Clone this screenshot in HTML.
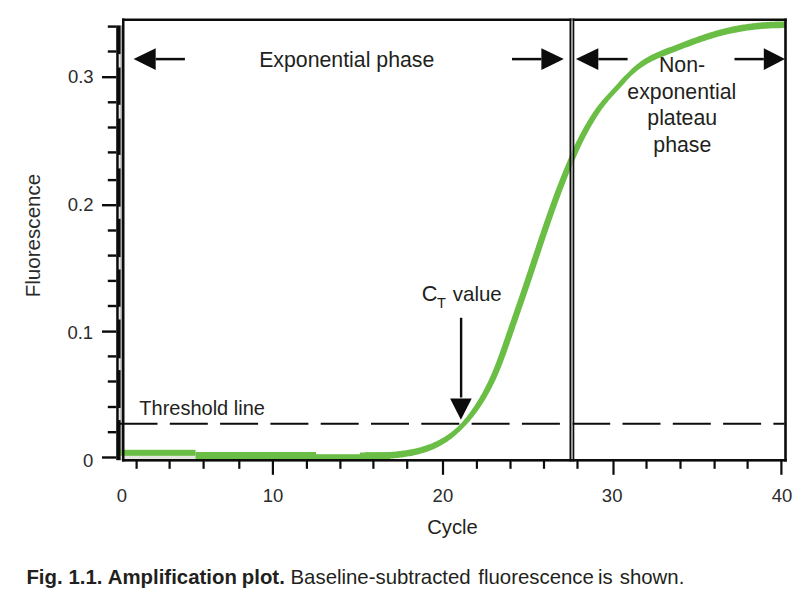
<!DOCTYPE html>
<html><head><meta charset="utf-8"><style>
html,body{margin:0;padding:0;background:#fff;width:812px;height:596px;overflow:hidden;}
text{font-family:"Liberation Sans",sans-serif;}
</style></head><body>
<svg width="812" height="596" viewBox="0 0 812 596" style="display:block" fill="#231f20"><defs><clipPath id="pc"><rect x="120.6" y="19" width="665" height="441"/></clipPath></defs>
<rect x="120.6" y="25.4" width="1.4" height="434.8" fill="#a8a5a2"/>
<g clip-path="url(#pc)">
<rect x="118" y="449.8" width="77.5" height="6.1" fill="#6abd45"/>
<rect x="118" y="455.9" width="77.5" height="3" fill="#e4e5e0"/>
<rect x="195.5" y="452" width="120.5" height="7" fill="#6abd45"/>
<rect x="316" y="454.2" width="49" height="5" fill="#6abd45"/>
<rect x="365" y="452.2" width="25" height="7" fill="#6abd45"/>
<polygon points="360.00,458.98 361.39,459.04 362.77,459.09 364.15,459.14 365.52,459.18 366.90,459.21 368.27,459.24 369.63,459.26 371.00,459.27 372.36,459.27 373.72,459.27 375.07,459.26 376.43,459.24 377.78,459.22 379.13,459.19 380.48,459.15 381.82,459.10 383.17,459.04 384.51,458.98 385.85,458.91 387.20,458.83 388.54,458.74 389.88,458.64 391.22,458.54 392.56,458.42 393.90,458.30 395.24,458.17 396.58,458.03 397.92,457.88 399.26,457.72 400.60,457.56 401.95,457.38 403.29,457.20 404.63,457.00 405.98,456.80 407.32,456.59 408.66,456.37 410.00,456.13 411.34,455.89 412.68,455.63 414.02,455.35 415.35,455.06 416.68,454.76 418.00,454.43 419.32,454.09 420.63,453.73 421.94,453.36 423.25,452.97 424.55,452.56 425.84,452.13 427.12,451.69 428.40,451.22 429.67,450.75 430.94,450.25 432.19,449.73 433.44,449.20 434.68,448.65 435.91,448.08 437.13,447.49 438.34,446.89 439.54,446.26 440.74,445.62 441.92,444.96 443.09,444.28 444.25,443.58 445.39,442.87 446.53,442.13 447.65,441.38 448.76,440.61 449.86,439.81 450.95,439.01 452.02,438.18 453.08,437.33 454.13,436.47 455.17,435.59 456.19,434.70 457.21,433.79 458.21,432.87 459.19,431.93 460.17,430.98 464.44,426.71 465.39,425.73 466.33,424.74 467.26,423.74 468.18,422.72 469.09,421.70 469.99,420.66 470.88,419.61 471.75,418.56 472.62,417.49 473.47,416.42 474.32,415.33 475.15,414.24 475.97,413.14 476.79,412.04 477.59,410.93 478.38,409.81 479.16,408.69 479.94,407.56 480.70,406.43 481.45,405.29 482.20,404.15 482.93,403.01 483.66,401.86 484.37,400.70 485.08,399.54 485.78,398.38 486.46,397.21 487.14,396.04 487.82,394.87 488.48,393.69 489.13,392.50 489.78,391.31 490.42,390.12 491.04,388.92 491.67,387.72 492.28,386.52 492.88,385.31 493.48,384.09 494.07,382.88 494.65,381.66 495.23,380.43 495.79,379.20 496.36,377.97 496.91,376.73 497.46,375.49 498.00,374.25 498.53,373.00 499.06,371.75 499.58,370.50 500.09,369.24 500.61,367.98 501.11,366.72 501.61,365.45 502.11,364.19 502.60,362.92 503.08,361.65 503.57,360.37 504.05,359.09 504.52,357.82 504.99,356.54 505.46,355.25 505.92,353.97 506.39,352.69 506.84,351.40 507.30,350.11 507.76,348.82 508.21,347.54 508.66,346.25 509.11,344.95 509.55,343.66 510.00,342.37 510.45,341.08 510.89,339.79 511.33,338.49 511.78,337.20 512.22,335.91 512.66,334.61 513.11,333.32 513.55,332.03 514.00,330.74 514.44,329.45 514.89,328.16 515.33,326.87 515.78,325.58 516.22,324.29 516.67,323.00 517.12,321.71 517.56,320.42 518.01,319.13 518.46,317.85 518.90,316.56 519.35,315.27 519.80,313.98 520.24,312.69 520.69,311.41 521.14,310.12 521.58,308.83 522.03,307.54 522.47,306.26 522.92,304.97 523.36,303.68 523.81,302.40 524.25,301.11 524.70,299.82 525.14,298.53 525.58,297.25 526.03,295.96 526.47,294.67 526.91,293.38 527.35,292.09 527.79,290.80 528.23,289.52 528.67,288.23 529.11,286.94 529.54,285.65 529.98,284.36 530.41,283.07 530.85,281.78 531.28,280.49 531.72,279.19 532.15,277.90 532.58,276.61 533.01,275.32 533.45,274.03 533.88,272.74 534.31,271.44 534.74,270.15 535.17,268.86 535.60,267.57 536.03,266.27 536.46,264.98 536.89,263.69 537.32,262.39 537.75,261.10 538.17,259.81 538.60,258.52 539.03,257.22 539.46,255.93 539.89,254.64 540.32,253.34 540.75,252.05 541.18,250.76 541.61,249.46 542.04,248.17 542.47,246.88 542.90,245.58 543.33,244.29 543.76,243.00 544.20,241.71 544.63,240.42 545.06,239.12 545.50,237.83 545.93,236.54 546.37,235.25 546.80,233.96 547.24,232.67 547.68,231.38 548.11,230.09 548.55,228.80 548.99,227.51 549.43,226.22 549.88,224.93 550.32,223.64 550.76,222.35 551.21,221.06 551.65,219.77 552.10,218.49 552.55,217.20 553.00,215.91 553.45,214.63 553.90,213.34 554.36,212.05 554.81,210.77 555.27,209.49 555.73,208.20 556.18,206.92 556.65,205.64 557.11,204.35 557.57,203.07 558.04,201.79 558.50,200.51 558.97,199.23 559.44,197.95 559.92,196.67 560.39,195.39 560.87,194.12 561.35,192.84 561.83,191.56 562.31,190.29 562.79,189.01 563.28,187.74 563.77,186.47 564.26,185.19 564.75,183.92 565.24,182.65 565.74,181.38 566.24,180.11 566.74,178.84 567.24,177.57 567.75,176.31 568.26,175.04 568.77,173.77 569.28,172.51 569.80,171.25 570.32,169.98 570.84,168.72 571.36,167.46 571.89,166.20 572.42,164.94 572.95,163.69 573.49,162.43 574.03,161.18 574.57,159.92 575.12,158.67 575.67,157.42 576.22,156.17 576.78,154.93 577.34,153.68 577.90,152.44 578.47,151.20 579.04,149.96 579.62,148.73 580.20,147.49 580.79,146.26 581.38,145.03 581.97,143.81 582.57,142.58 583.17,141.36 583.78,140.14 584.39,138.93 585.01,137.71 585.63,136.50 586.26,135.30 586.90,134.09 587.53,132.89 588.18,131.69 588.83,130.50 589.48,129.31 590.14,128.12 590.81,126.93 591.48,125.75 592.16,124.57 592.85,123.40 593.54,122.23 594.23,121.06 594.94,119.90 595.65,118.74 596.36,117.59 597.09,116.44 597.82,115.29 598.55,114.16 599.30,113.02 600.06,111.89 600.82,110.77 601.60,109.66 602.39,108.56 603.19,107.47 604.00,106.38 604.83,105.31 605.67,104.24 606.52,103.19 607.39,102.15 608.26,101.11 609.15,100.08 610.04,99.06 610.94,98.04 611.85,97.03 612.77,96.02 613.69,95.01 614.61,94.01 615.53,93.01 616.46,92.00 617.39,91.00 618.31,89.99 619.23,88.98 620.15,87.97 621.07,86.95 621.99,85.94 622.90,84.92 623.82,83.90 624.73,82.88 625.65,81.86 626.57,80.85 627.50,79.84 628.42,78.84 629.36,77.84 630.30,76.85 631.24,75.87 632.20,74.90 629.86,77.24 630.84,76.29 631.82,75.36 632.82,74.44 633.83,73.53 634.85,72.65 635.89,71.77 636.93,70.92 638.00,70.08 639.07,69.27 640.16,68.46 641.26,67.68 642.38,66.91 643.50,66.17 644.64,65.44 645.79,64.72 646.95,64.03 648.13,63.36 649.31,62.70 650.51,62.06 651.72,61.44 652.93,60.84 654.16,60.25 655.39,59.67 656.63,59.11 657.88,58.56 659.13,58.02 660.39,57.49 661.66,56.97 662.92,56.46 664.20,55.95 665.47,55.45 666.75,54.95 668.03,54.46 669.31,53.97 670.59,53.48 671.87,52.99 673.15,52.49 674.43,52.00 675.70,51.51 676.98,51.02 678.26,50.53 679.53,50.04 680.81,49.55 682.08,49.06 683.36,48.58 684.63,48.09 685.91,47.61 687.18,47.13 688.46,46.65 689.74,46.17 691.01,45.70 692.29,45.22 693.57,44.76 694.84,44.29 696.12,43.83 697.40,43.37 698.68,42.92 699.97,42.47 701.25,42.02 702.53,41.58 703.82,41.14 705.10,40.71 706.39,40.28 707.68,39.86 708.97,39.45 710.27,39.04 711.56,38.63 712.86,38.24 714.16,37.85 715.46,37.46 716.76,37.09 718.07,36.72 719.38,36.36 720.69,36.00 722.00,35.65 723.32,35.32 724.63,34.99 725.95,34.66 727.28,34.35 728.60,34.05 729.93,33.75 731.26,33.46 732.60,33.18 733.93,32.90 735.27,32.64 736.61,32.38 737.95,32.13 739.29,31.89 740.64,31.66 741.99,31.43 743.33,31.21 744.68,31.00 746.04,30.80 747.39,30.61 748.74,30.42 750.10,30.24 751.45,30.07 752.81,29.90 754.17,29.74 755.53,29.59 756.89,29.45 758.25,29.32 759.61,29.19 760.97,29.07 762.33,28.96 763.70,28.85 765.06,28.75 766.42,28.66 767.79,28.58 769.15,28.50 770.51,28.43 771.88,28.36 773.24,28.31 774.60,28.26 775.97,28.21 777.33,28.18 778.69,28.15 780.05,28.13 781.41,28.11 782.77,28.10 784.13,28.10 785.49,28.10 786.85,28.12 788.20,28.13 789.56,28.16 790.91,28.19 792.26,28.22 793.62,28.27 794.96,28.32 794.96,21.72 793.62,21.67 792.26,21.62 790.91,21.59 789.56,21.56 788.20,21.53 786.85,21.52 785.49,21.50 784.13,21.50 782.77,21.50 781.41,21.51 780.05,21.53 778.69,21.55 777.33,21.58 775.97,21.61 774.60,21.66 773.24,21.71 771.88,21.76 770.51,21.83 769.15,21.90 767.79,21.98 766.42,22.06 765.06,22.15 763.70,22.25 762.33,22.36 760.97,22.47 759.61,22.59 758.25,22.72 756.89,22.85 755.53,22.99 754.17,23.14 752.81,23.30 751.45,23.47 750.10,23.64 748.74,23.82 747.39,24.01 746.04,24.20 744.68,24.40 743.33,24.61 741.99,24.83 740.64,25.06 739.29,25.29 737.95,25.53 736.61,25.78 735.27,26.04 733.93,26.30 732.60,26.58 731.26,26.86 729.93,27.15 728.60,27.45 727.28,27.75 725.95,28.06 724.63,28.39 723.32,28.72 722.00,29.05 720.69,29.40 719.38,29.76 718.07,30.12 716.76,30.49 715.46,30.86 714.16,31.25 712.86,31.64 711.56,32.03 710.27,32.44 708.97,32.85 707.68,33.26 706.39,33.68 705.10,34.11 703.82,34.54 702.53,34.98 701.25,35.42 699.97,35.87 698.68,36.32 697.40,36.77 696.12,37.23 694.84,37.69 693.57,38.16 692.29,38.62 691.01,39.10 689.74,39.57 688.46,40.05 687.18,40.53 685.91,41.01 684.63,41.49 683.36,41.98 682.08,42.46 680.81,42.95 679.53,43.44 678.26,43.93 676.98,44.42 675.70,44.91 674.43,45.40 673.15,45.89 671.87,46.39 670.59,46.88 669.31,47.37 668.03,47.86 666.75,48.35 665.47,48.85 664.20,49.35 662.92,49.86 661.66,50.37 660.39,50.89 659.13,51.42 657.88,51.96 656.63,52.51 655.39,53.07 654.16,53.65 652.93,54.24 651.72,54.84 650.51,55.46 649.31,56.10 648.13,56.76 646.95,57.43 645.79,58.12 644.64,58.84 643.50,59.57 642.38,60.31 641.26,61.08 640.16,61.86 639.07,62.67 638.00,63.48 636.93,64.32 635.89,65.17 634.85,66.05 633.83,66.93 632.82,67.84 631.82,68.76 630.84,69.69 629.86,70.64 625.60,74.90 624.64,75.87 623.70,76.85 622.76,77.84 621.82,78.84 620.90,79.84 619.97,80.85 619.05,81.86 618.13,82.88 617.22,83.90 616.30,84.92 615.39,85.94 614.47,86.95 613.55,87.97 612.63,88.98 611.71,89.99 610.79,91.00 609.86,92.00 608.93,93.01 608.01,94.01 607.09,95.01 606.17,96.02 605.25,97.03 604.34,98.04 603.44,99.06 602.55,100.08 601.66,101.11 600.79,102.15 599.92,103.19 599.07,104.24 598.23,105.31 597.40,106.38 596.59,107.47 595.79,108.56 595.00,109.66 594.22,110.77 593.46,111.89 592.70,113.02 591.95,114.16 591.22,115.29 590.49,116.44 589.76,117.59 589.05,118.74 588.34,119.90 587.63,121.06 586.94,122.23 586.25,123.40 585.56,124.57 584.88,125.75 584.21,126.93 583.54,128.12 582.88,129.31 582.23,130.50 581.58,131.69 580.93,132.89 580.30,134.09 579.66,135.30 579.03,136.50 578.41,137.71 577.79,138.93 577.18,140.14 576.57,141.36 575.97,142.58 575.37,143.81 574.78,145.03 574.19,146.26 573.60,147.49 573.02,148.73 572.44,149.96 571.87,151.20 571.30,152.44 570.74,153.68 570.18,154.93 569.62,156.17 569.07,157.42 568.52,158.67 567.97,159.92 567.43,161.18 566.89,162.43 566.35,163.69 565.82,164.94 565.29,166.20 564.76,167.46 564.24,168.72 563.72,169.98 563.20,171.25 562.68,172.51 562.17,173.77 561.66,175.04 561.15,176.31 560.64,177.57 560.14,178.84 559.64,180.11 559.14,181.38 558.64,182.65 558.15,183.92 557.66,185.19 557.17,186.47 556.68,187.74 556.19,189.01 555.71,190.29 555.23,191.56 554.75,192.84 554.27,194.12 553.79,195.39 553.32,196.67 552.84,197.95 552.37,199.23 551.90,200.51 551.44,201.79 550.97,203.07 550.51,204.35 550.05,205.64 549.58,206.92 549.13,208.20 548.67,209.49 548.21,210.77 547.76,212.05 547.30,213.34 546.85,214.63 546.40,215.91 545.95,217.20 545.50,218.49 545.05,219.77 544.61,221.06 544.16,222.35 543.72,223.64 543.28,224.93 542.83,226.22 542.39,227.51 541.95,228.80 541.51,230.09 541.08,231.38 540.64,232.67 540.20,233.96 539.77,235.25 539.33,236.54 538.90,237.83 538.46,239.12 538.03,240.42 537.60,241.71 537.16,243.00 536.73,244.29 536.30,245.58 535.87,246.88 535.44,248.17 535.01,249.46 534.58,250.76 534.15,252.05 533.72,253.34 533.29,254.64 532.86,255.93 532.43,257.22 532.00,258.52 531.57,259.81 531.15,261.10 530.72,262.39 530.29,263.69 529.86,264.98 529.43,266.27 529.00,267.57 528.57,268.86 528.14,270.15 527.71,271.44 527.28,272.74 526.85,274.03 526.41,275.32 525.98,276.61 525.55,277.90 525.12,279.19 524.68,280.49 524.25,281.78 523.81,283.07 523.38,284.36 522.94,285.65 522.51,286.94 522.07,288.23 521.63,289.52 521.19,290.80 520.75,292.09 520.31,293.38 519.87,294.67 519.43,295.96 518.98,297.25 518.54,298.53 518.10,299.82 517.65,301.11 517.21,302.40 516.76,303.68 516.32,304.97 515.87,306.26 515.43,307.54 514.98,308.83 514.54,310.12 514.09,311.41 513.64,312.69 513.20,313.98 512.75,315.27 512.30,316.56 511.86,317.85 511.41,319.13 510.96,320.42 510.52,321.71 510.07,323.00 509.62,324.29 509.18,325.58 508.73,326.87 508.29,328.16 507.84,329.45 507.40,330.74 506.95,332.03 506.51,333.32 506.06,334.61 505.62,335.91 505.18,337.20 504.73,338.49 504.29,339.79 503.85,341.08 503.40,342.37 502.95,343.66 502.51,344.95 502.06,346.25 501.61,347.54 501.16,348.82 500.70,350.11 500.24,351.40 499.79,352.69 499.32,353.97 498.86,355.25 498.39,356.54 497.92,357.82 497.45,359.09 496.97,360.37 496.48,361.65 496.00,362.92 495.51,364.19 495.01,365.45 494.51,366.72 494.01,367.98 493.49,369.24 492.98,370.50 492.46,371.75 491.93,373.00 491.40,374.25 490.86,375.49 490.31,376.73 489.76,377.97 489.19,379.20 488.63,380.43 488.05,381.66 487.47,382.88 486.88,384.09 486.28,385.31 485.68,386.52 485.07,387.72 484.44,388.92 483.82,390.12 483.18,391.31 482.53,392.50 481.88,393.69 481.22,394.87 480.54,396.04 479.86,397.21 479.18,398.38 478.48,399.54 477.77,400.70 477.06,401.86 476.33,403.01 475.60,404.15 474.85,405.29 474.10,406.43 473.34,407.56 472.56,408.69 471.78,409.81 470.99,410.93 470.19,412.04 469.37,413.14 468.55,414.24 467.72,415.33 466.87,416.42 466.02,417.49 465.15,418.56 464.28,419.61 463.39,420.66 462.49,421.70 461.58,422.72 460.66,423.74 459.73,424.74 458.79,425.73 457.84,426.71 460.17,424.38 459.19,425.33 458.21,426.27 457.21,427.19 456.19,428.10 455.17,428.99 454.13,429.87 453.08,430.73 452.02,431.58 450.95,432.41 449.86,433.21 448.76,434.01 447.65,434.78 446.53,435.53 445.39,436.27 444.25,436.98 443.09,437.68 441.92,438.36 440.74,439.02 439.54,439.66 438.34,440.29 437.13,440.89 435.91,441.48 434.68,442.05 433.44,442.60 432.19,443.13 430.94,443.65 429.67,444.15 428.40,444.62 427.12,445.09 425.84,445.53 424.55,445.96 423.25,446.37 421.94,446.76 420.63,447.13 419.32,447.49 418.00,447.83 416.68,448.16 415.35,448.46 414.02,448.75 412.68,449.03 411.34,449.29 410.00,449.53 408.66,449.77 407.32,449.99 405.98,450.20 404.63,450.40 403.29,450.60 401.95,450.78 400.60,450.96 399.26,451.12 397.92,451.28 396.58,451.43 395.24,451.57 393.90,451.70 392.56,451.82 391.22,451.94 389.88,452.04 388.54,452.14 387.20,452.23 385.85,452.31 384.51,452.38 383.17,452.44 381.82,452.50 380.48,452.55 379.13,452.59 377.78,452.62 376.43,452.64 375.07,452.66 373.72,452.67 372.36,452.67 371.00,452.67 369.63,452.66 368.27,452.64 366.90,452.61 365.52,452.58 364.15,452.54 362.77,452.49 361.39,452.44 360.00,452.38" fill="#6abd45"/>
</g>
<line x1="119.5" y1="423.8" x2="784.5" y2="423.8" stroke="#0c0c0c" stroke-width="2.1" stroke-dasharray="38 12.3"/>
<rect x="122" y="18.5" width="664.8" height="2.5" fill="#0c0c0c"/>
<rect x="122" y="18.5" width="2.5" height="443" fill="#0c0c0c"/>
<rect x="784.2" y="18.5" width="2.6" height="443" fill="#0c0c0c"/>
<rect x="569.5" y="18.5" width="2" height="443" fill="#0c0c0c"/>
<rect x="572.5" y="18.5" width="1.8" height="443" fill="#0c0c0c"/>
<rect x="571.5" y="18.5" width="1" height="443" fill="#aaa"/>
<rect x="122" y="459" width="664.8" height="2.6" fill="#0c0c0c"/>
<rect x="116.2" y="25.4" width="4.4" height="434.8" fill="#0c0c0c"/>
<rect x="118.7" y="54.1" width="2.1" height="13.4" fill="#e4e4e4"/>
<rect x="118.7" y="104.8" width="2.1" height="13.8" fill="#e4e4e4"/>
<rect x="118.7" y="154.9" width="2.1" height="13.5" fill="#e4e4e4"/>
<rect x="118.7" y="206.7" width="2.1" height="12.1" fill="#e4e4e4"/>
<rect x="118.7" y="257.1" width="2.1" height="12.4" fill="#e4e4e4"/>
<rect x="118.7" y="306.8" width="2.1" height="12.7" fill="#e4e4e4"/>
<rect x="118.7" y="358.3" width="2.1" height="11.8" fill="#e4e4e4"/>
<rect x="118.7" y="408" width="2.1" height="12.1" fill="#e4e4e4"/>
<rect x="102" y="456.30" width="14.3" height="2.4" fill="#0c0c0c"/>
<rect x="107.8" y="431.00" width="8.5" height="2.4" fill="#0c0c0c"/>
<rect x="107.8" y="405.80" width="8.5" height="2.4" fill="#0c0c0c"/>
<rect x="107.8" y="380.30" width="8.5" height="2.4" fill="#0c0c0c"/>
<rect x="107.8" y="355.20" width="8.5" height="2.4" fill="#0c0c0c"/>
<rect x="102" y="330.40" width="14.3" height="2.4" fill="#0c0c0c"/>
<rect x="107.8" y="304.80" width="8.5" height="2.4" fill="#0c0c0c"/>
<rect x="107.8" y="279.70" width="8.5" height="2.4" fill="#0c0c0c"/>
<rect x="107.8" y="254.40" width="8.5" height="2.4" fill="#0c0c0c"/>
<rect x="107.8" y="229.30" width="8.5" height="2.4" fill="#0c0c0c"/>
<rect x="102" y="204.00" width="14.3" height="2.4" fill="#0c0c0c"/>
<rect x="107.8" y="178.90" width="8.5" height="2.4" fill="#0c0c0c"/>
<rect x="107.8" y="151.20" width="8.5" height="2.4" fill="#0c0c0c"/>
<rect x="107.8" y="126.30" width="8.5" height="2.4" fill="#0c0c0c"/>
<rect x="107.8" y="101.10" width="8.5" height="2.4" fill="#0c0c0c"/>
<rect x="102" y="76.00" width="14.3" height="2.4" fill="#0c0c0c"/>
<rect x="107.8" y="50.30" width="8.5" height="2.4" fill="#0c0c0c"/>
<rect x="107.8" y="25.40" width="8.5" height="2.4" fill="#0c0c0c"/>
<rect x="135.50" y="461" width="2.2" height="7.8" fill="#0c0c0c"/>
<rect x="168.50" y="461" width="2.2" height="7.8" fill="#0c0c0c"/>
<rect x="202.50" y="461" width="2.2" height="7.8" fill="#0c0c0c"/>
<rect x="238.20" y="461" width="2.2" height="7.8" fill="#0c0c0c"/>
<rect x="271.80" y="461" width="2.2" height="13.8" fill="#0c0c0c"/>
<rect x="305.80" y="461" width="2.2" height="7.8" fill="#0c0c0c"/>
<rect x="339.30" y="461" width="2.2" height="7.8" fill="#0c0c0c"/>
<rect x="372.30" y="461" width="2.2" height="7.8" fill="#0c0c0c"/>
<rect x="406.10" y="461" width="2.2" height="7.8" fill="#0c0c0c"/>
<rect x="441.90" y="461" width="2.2" height="13.8" fill="#0c0c0c"/>
<rect x="475.80" y="461" width="2.2" height="7.8" fill="#0c0c0c"/>
<rect x="509.40" y="461" width="2.2" height="7.8" fill="#0c0c0c"/>
<rect x="542.90" y="461" width="2.2" height="7.8" fill="#0c0c0c"/>
<rect x="576.40" y="461" width="2.2" height="7.8" fill="#0c0c0c"/>
<rect x="612.40" y="461" width="2.2" height="13.8" fill="#0c0c0c"/>
<rect x="645.40" y="461" width="2.2" height="7.8" fill="#0c0c0c"/>
<rect x="679.40" y="461" width="2.2" height="7.8" fill="#0c0c0c"/>
<rect x="713.50" y="461" width="2.2" height="7.8" fill="#0c0c0c"/>
<rect x="746.50" y="461" width="2.2" height="7.8" fill="#0c0c0c"/>
<rect x="780.30" y="461" width="2.2" height="13.8" fill="#0c0c0c"/>
<polygon points="133.6,59.1 155.7,48.3 155.7,69.9" fill="#0c0c0c"/>
<rect x="155.7" y="57.85" width="29.200000000000017" height="2.5" fill="#0c0c0c"/>
<polygon points="563.8,59.1 541.4,48.3 541.4,69.9" fill="#0c0c0c"/>
<rect x="512" y="57.85" width="29.399999999999977" height="2.5" fill="#0c0c0c"/>
<polygon points="575.9,59.1 598.3,48.3 598.3,69.9" fill="#0c0c0c"/>
<rect x="598.3" y="57.85" width="29.300000000000068" height="2.5" fill="#0c0c0c"/>
<polygon points="785,59.1 763.8,48.3 763.8,69.9" fill="#0c0c0c"/>
<rect x="734.5" y="57.85" width="29.299999999999955" height="2.5" fill="#0c0c0c"/>
<rect x="459.9" y="317.8" width="2.4" height="82" fill="#0c0c0c"/>
<polygon points="450.1,398.6 471.7,398.6 460.9,419.7" fill="#0c0c0c" stroke="#fff" stroke-width="2" paint-order="stroke"/>
<text transform="translate(259.15 66.8) scale(1 1.02)" font-size="21.3">Exponential phase</text>
<text transform="translate(659.0 72.4) scale(1 1.02)" font-size="21.3">Non-</text>
<text transform="translate(627.35 98.9) scale(1 1.02)" font-size="21.3">exponential</text>
<text transform="translate(647.3 125.3) scale(1 1.02)" font-size="21.3">plateau</text>
<text transform="translate(653.35 152.1) scale(1 1.02)" font-size="21.3">phase</text>
<text transform="translate(139.35 414.9) scale(1 1.02)" font-size="20.0">Threshold line</text>
<text transform="translate(421.85 301) scale(1 1.02)" font-size="21.8">C</text>
<text transform="translate(437.1 307.7) scale(1 1.02)" font-size="14.5">T</text>
<text transform="translate(452.8 301) scale(1 1.02)" font-size="20.5">value</text>
<text transform="translate(67.9 82.9) scale(1 1.0)" font-size="18.5" fill="#2b2b2b">0.3</text>
<text transform="translate(67.7 210.6) scale(1 1.0)" font-size="18.5" fill="#2b2b2b">0.2</text>
<text transform="translate(67.4 338.8) scale(1 1.0)" font-size="18.5" fill="#2b2b2b">0.1</text>
<text transform="translate(83.0 466.6) scale(1 1.0)" font-size="18.5" fill="#2b2b2b">0</text>
<text transform="translate(116.65 501.7) scale(1 1.0)" font-size="18.5" fill="#2b2b2b">0</text>
<text transform="translate(262.8 501.7) scale(1 1.0)" font-size="18.5" fill="#2b2b2b">10</text>
<text transform="translate(432.6 501.7) scale(1 1.0)" font-size="18.5" fill="#2b2b2b">20</text>
<text transform="translate(601.85 501.7) scale(1 1.0)" font-size="18.5" fill="#2b2b2b">30</text>
<text transform="translate(771.75 501.7) scale(1 1.0)" font-size="18.5" fill="#2b2b2b">40</text>
<text transform="translate(427.25 533.9) scale(1 1.02)" font-size="20.2">Cycle</text>
<text transform="translate(26.4 583.8) scale(1 1.02)" font-size="20.4" font-weight="700">Fig.</text>
<text transform="translate(68.4 583.8) scale(1 1.02)" font-size="20.4" font-weight="700">1.1.</text>
<text transform="translate(107.7 583.8) scale(1 1.02)" font-size="20.4" font-weight="700">Amplification</text>
<text transform="translate(241.8 583.8) scale(1 1.02)" font-size="20.4" font-weight="700">plot.</text>
<text transform="translate(290.5 583.8) scale(1 1.02)" font-size="20.4">Baseline-subtracted</text>
<text transform="translate(478.3 583.8) scale(1 1.02)" font-size="20.4">fluorescence</text>
<text transform="translate(598.05 583.8) scale(1 1.02)" font-size="20.4">is</text>
<text transform="translate(619.7 583.8) scale(1 1.02)" font-size="20.4">shown.</text>
<text font-size="20.6" fill="#2b2b2b" text-anchor="middle" transform="translate(40.2 235.5) rotate(-90) scale(1 1.02)">Fluorescence</text></svg>
</body></html>
